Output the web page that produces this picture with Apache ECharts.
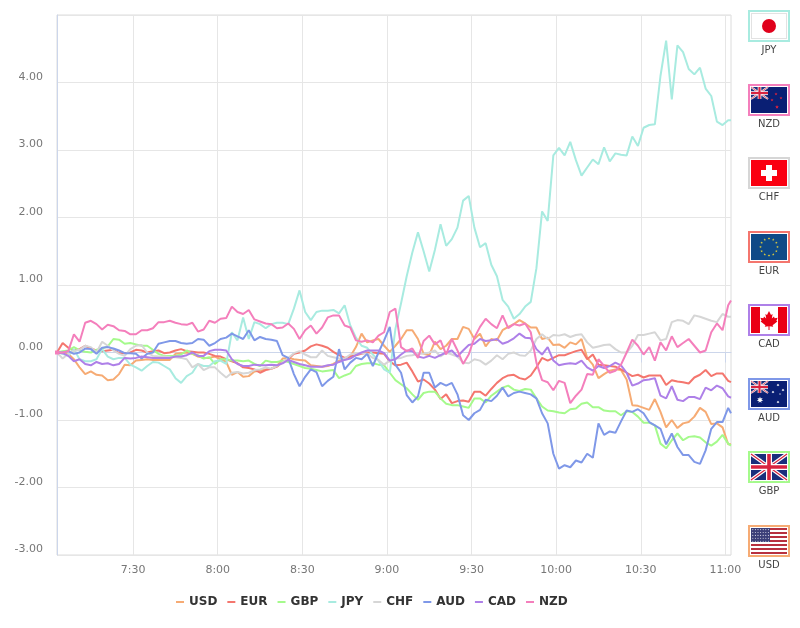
<!DOCTYPE html>
<html>
<head>
<meta charset="utf-8">
<title>Currency strength, intraday</title>
<script src="https://cdn.jsdelivr.net/npm/echarts@6/dist/echarts.min.js"></script>
<style>html,body{margin:0;padding:0;background:#fff}#chart{width:800px;height:628px}</style>
</head>
<body>
<div id="chart"></div>
<script>
// Percent change since the session start, sampled every two minutes from 7:03, with a closing value at 11:02.
const USD = [0,-.01,-.02,-.1,-.22,-.32,-.28,-.33,-.34,-.41,-.4,-.32,-.18,-.19,-.12,-.11,-.1,-.11,-.11,-.11,-.11,-.02,-.01,0,-.02,-.06,-.08,-.08,-.06,-.1,-.14,-.33,-.29,-.36,-.35,-.28,-.27,-.25,
  -.24,-.2,-.09,-.08,-.1,-.11,-.12,-.19,-.2,-.21,-.2,-.17,-.12,-.09,-.06,.08,.28,.15,.18,.2,.1,.01,.1,.2,.33,.33,.2,-.02,-.04,.16,.05,.1,.2,.2,.38,.35,.2,.28,.09,.2,.18,.33,.38,.42,.48,
  .43,.37,.37,.2,.22,.11,.12,.07,.15,.12,.2,-.08,-.18,-.38,-.32,-.27,-.25,-.26,-.4,-.78,-.79,-.82,-.85,-.69,-.88,-1.11,-1.0,-1.12,-1.05,-1.03,-.95,-.82,-.88,-1.06,-1.05,-1.11,-1.36,-1.36];
const EUR = [0,.14,.07,.03,.05,.1,.06,.03,.02,.03,.04,-.01,-.01,0,.04,.03,0,.02,.03,-.01,0,.03,.05,.02,.01,0,0,-.02,-.05,-.06,-.1,-.13,-.16,-.22,-.23,-.25,-.3,-.26,
  -.24,-.21,-.14,-.1,-.02,0,.03,.09,.12,.1,.07,.01,-.04,-.08,-.06,-.04,-.02,0,0,-.01,-.02,-.13,-.19,-.18,-.15,-.28,-.43,-.4,-.46,-.55,-.69,-.62,-.75,-.72,-.71,-.73,-.58,-.58,-.64,-.54,-.45,-.38,-.34,-.33,-.38,
  -.4,-.34,-.22,-.08,-.12,-.08,-.04,-.04,-.01,.02,.04,-.1,-.03,-.18,-.19,-.2,-.21,-.25,-.3,-.35,-.33,-.37,-.34,-.34,-.34,-.48,-.41,-.43,-.44,-.46,-.37,-.33,-.26,-.35,-.31,-.31,-.42,-.44];
const GBP = [0,.02,.03,.08,.03,.01,0,.04,.06,.09,.2,.19,.13,.14,.12,.1,.1,.04,-.02,-.05,-.05,-.05,-.03,.03,-.02,-.04,-.09,-.07,-.17,-.1,-.1,-.12,-.12,-.13,-.12,-.17,-.2,-.12,
  -.14,-.14,-.12,-.14,-.17,-.2,-.23,-.24,-.26,-.28,-.27,-.26,-.38,-.34,-.31,-.2,-.17,-.16,-.16,-.18,-.19,-.3,-.41,-.47,-.53,-.62,-.7,-.6,-.58,-.58,-.68,-.76,-.78,-.78,-.8,-.82,-.68,-.68,-.74,-.64,-.58,-.52,-.49,-.55,-.57,
  -.54,-.55,-.68,-.8,-.86,-.87,-.89,-.9,-.84,-.83,-.76,-.74,-.81,-.81,-.86,-.87,-.87,-.93,-.87,-.88,-.95,-1.04,-1.04,-1.08,-1.35,-1.42,-1.3,-1.2,-1.3,-1.25,-1.24,-1.26,-1.33,-1.38,-1.32,-1.22,-1.35,-1.38];
const JPY = [0,-.02,-.05,.05,-.1,-.13,-.13,-.1,.05,-.06,-.1,-.08,-.08,-.18,-.22,-.27,-.2,-.14,-.15,-.2,-.25,-.38,-.45,-.35,-.3,-.17,-.2,-.2,-.13,-.12,-.17,.3,.18,.52,.2,.45,.42,.36,
  .42,.44,.44,.42,.65,.92,.6,.48,.6,.62,.62,.63,.58,.7,.4,.22,.1,.07,-.03,-.12,-.25,-.3,.35,.73,1.13,1.48,1.78,1.5,1.2,1.52,1.9,1.58,1.68,1.85,2.25,2.32,1.85,1.56,1.62,1.3,1.13,.78,.68,.5,.57,
  .68,.75,1.25,2.09,1.95,2.92,3.03,2.92,3.12,2.85,2.62,2.74,2.86,2.79,3.04,2.83,2.95,2.93,2.92,3.2,3.06,3.33,3.37,3.38,4.1,4.62,3.75,4.55,4.45,4.2,4.12,4.22,3.91,3.8,3.42,3.37,3.44,3.44];
const CHF = [0,-.09,-.02,.02,.04,.1,.08,0,.16,.1,.03,-.02,-.05,.05,.1,.11,0,-.05,-.06,-.06,-.07,-.07,-.08,-.1,-.22,-.17,-.26,-.22,-.22,-.3,-.37,-.3,-.29,-.31,-.3,-.26,-.25,-.22,
  -.24,-.2,-.15,-.08,-.01,.02,-.03,-.07,-.07,.03,-.05,-.07,-.09,-.09,-.03,-.01,-.01,-.02,-.08,-.11,-.18,-.12,-.09,-.08,-.05,-.04,-.02,-.02,0,.03,-.06,0,-.03,-.06,-.15,-.16,-.1,-.12,-.18,-.12,-.04,-.1,-.02,0,-.04,
  -.05,.03,.2,.27,.2,.26,.25,.27,.23,.26,.27,.15,.07,.09,.11,.12,.05,0,0,.1,.26,.26,.28,.3,.18,.2,.45,.48,.47,.42,.55,.53,.5,.47,.45,.57,.53,.53];
const AUD = [0,0,.02,-.02,0,.06,.05,-.02,.07,.08,.06,.03,-.01,-.01,-.02,-.09,-.02,0,.13,.15,.17,.17,.14,.13,.14,.2,.19,.1,.14,.2,.22,.28,.24,.2,.33,.18,.23,.2,
  .19,.17,-.04,-.08,-.32,-.5,-.36,-.25,-.29,-.5,-.42,-.36,.05,-.25,-.15,-.08,-.1,-.02,-.2,0,.18,.38,-.18,-.3,-.63,-.74,-.65,-.3,-.3,-.52,-.45,-.49,-.45,-.62,-.93,-1.0,-.9,-.85,-.7,-.72,-.64,-.52,-.65,-.6,-.58,
  -.6,-.62,-.68,-.9,-1.05,-1.5,-1.72,-1.67,-1.7,-1.6,-1.63,-1.5,-1.56,-1.05,-1.22,-1.17,-1.19,-1.02,-.86,-.88,-.84,-.9,-1.03,-1.08,-1.13,-1.36,-1.2,-1.4,-1.52,-1.52,-1.62,-1.65,-1.45,-1.13,-1.03,-1.03,-.82,-.9];
const CAD = [0,-.01,-.05,-.13,-.1,-.17,-.19,-.14,-.17,-.16,-.19,-.17,-.08,-.09,-.08,-.06,-.07,-.08,-.08,-.08,-.08,-.06,-.06,-.04,0,-.05,-.05,.02,.04,.04,.03,-.1,-.17,-.2,-.2,-.18,-.19,-.19,
  -.18,-.19,-.16,-.11,-.14,-.17,-.19,-.21,-.21,-.21,-.19,-.18,-.14,-.11,-.09,-.04,0,.03,.03,.03,-.01,-.12,-.1,-.03,.03,.02,-.06,-.08,-.05,-.08,-.04,0,.03,-.06,.03,.11,.13,.2,.17,.18,.2,.13,.16,.21,.28,
  .22,.21,.05,-.03,.08,-.12,-.19,-.17,-.16,-.17,-.12,-.22,-.27,-.2,-.23,-.2,-.15,-.19,-.3,-.49,-.46,-.41,-.4,-.38,-.64,-.68,-.5,-.7,-.72,-.66,-.66,-.69,-.52,-.56,-.49,-.53,-.65,-.67];
const NZD = [0,0,.02,.27,.16,.44,.47,.42,.34,.41,.39,.33,.32,.27,.27,.33,.33,.36,.45,.45,.47,.44,.42,.41,.44,.31,.34,.47,.44,.5,.51,.68,.6,.57,.63,.49,.46,.43,
  .42,.36,.37,.43,.35,.2,.33,.4,.28,.37,.52,.55,.55,.4,.37,.18,.16,.18,.15,.25,.3,.6,.65,.08,.02,.06,-.08,.17,.25,.12,.18,-.03,.2,.03,-.17,-.03,.22,.38,.5,.42,.36,.55,.36,.42,.4,
  .43,.3,-.15,-.41,-.44,-.56,-.42,-.45,-.75,-.64,-.55,-.32,-.33,-.1,-.2,-.3,-.27,-.18,0,.19,.1,-.03,.08,-.12,.15,.03,.24,.08,.14,.2,.1,0,.03,.3,.43,.33,.7,.77];

const currencies = ['USD', 'EUR', 'GBP', 'JPY', 'CHF', 'AUD', 'CAD', 'NZD'];
const values = { USD, EUR, GBP, JPY, CHF, AUD, CAD, NZD };
const colors = { USD: '#F6AB74', EUR: '#F4766E', GBP: '#A5FA8C', JPY: '#A8EBE0', CHF: '#D6D6D6', AUD: '#7F98E8', CAD: '#AE80E8', NZD: '#F47FBC' };
const yTicks = { min: -3, max: 5, step: 1 };

// One category per minute; samples land on every second minute, the last one on the final minute.
const firstMinute = 7 * 60 + 3;
const lastMinute = 11 * 60 + 2;
const minutes = [];
for (let m = firstMinute; m <= lastMinute; m++) minutes.push(m);
const clock = m => Math.floor(m / 60) + ':' + String(m % 60).padStart(2, '0');
const isHalfHour = i => minutes[i] % 30 === 0;
const sampleIndex = (i, n) => (i === n - 1 ? minutes.length - 1 : i * 2);

const FONT = '"DejaVu Sans", sans-serif';

const series = currencies.map(name => ({
  name,
  type: 'line',
  showSymbol: false,
  symbol: 'none',
  lineStyle: { width: 2, color: colors[name] },
  itemStyle: { color: colors[name] },
  emphasis: { disabled: true },
  data: values[name].map((v, i, all) => [sampleIndex(i, all.length), v]),
  markPoint: name === 'NZD' ? {
    silent: true, animation: false, label: { show: false },
    symbol: 'rect', symbolSize: 4, itemStyle: { color: colors.NZD },
    data: [{ coord: [0, 0] }]
  } : undefined
}));

/* ---------- flag tiles for the right-hand column ---------- */
const W = 36, H = 26;
const rect = (x, y, w, h, fill) => ({ type: 'rect', silent: true, shape: { x, y, width: w, height: h }, style: { fill } });
const seg = (x1, y1, x2, y2, stroke, lineWidth) => ({ type: 'line', silent: true, shape: { x1, y1, x2, y2 }, style: { stroke, lineWidth } });
const dot = (cx, cy, r, fill) => ({ type: 'circle', silent: true, shape: { cx, cy, r }, style: { fill } });
const star = (cx, cy, r, fill, n = 5) => {
  const points = [];
  for (let k = 0; k < n * 2; k++) {
    const a = -Math.PI / 2 + k * Math.PI / n, q = k % 2 ? r * 0.45 : r;
    points.push([cx + q * Math.cos(a), cy + q * Math.sin(a)]);
  }
  return { type: 'polygon', silent: true, shape: { points }, style: { fill } };
};
function unionJack(w, h, scale) {
  const blue = '#1A2F7C', red = '#D8233F';
  return [
    rect(0, 0, w, h, blue),
    seg(0, 0, w, h, '#fff', 3.4 * scale), seg(w, 0, 0, h, '#fff', 3.4 * scale),
    seg(0, 0, w, h, red, 1.2 * scale), seg(w, 0, 0, h, red, 1.2 * scale),
    rect(w / 2 - 3 * scale, 0, 6 * scale, h, '#fff'), rect(0, h / 2 - 3 * scale, w, 6 * scale, '#fff'),
    rect(w / 2 - 1.8 * scale, 0, 3.6 * scale, h, red), rect(0, h / 2 - 1.8 * scale, w, 3.6 * scale, red)
  ];
}
const flagArt = {
  JPY: () => [rect(0, 0, W, H, '#e2e2e2'), rect(1, 1, W - 2, H - 2, '#fff'), dot(W / 2, H / 2, 7, '#E0001B')],
  NZD: () => [rect(0, 0, W, H, '#0A1F74'), ...unionJack(17, 12, .6),
    star(25, 7, 1.6, '#D8233F'), star(21, 13, 1.6, '#D8233F'), star(30, 11, 1.6, '#D8233F'), star(26, 20, 2, '#D8233F')],
  CHF: () => [rect(0, 0, W, H, '#FA0010'), rect(W / 2 - 3, 5, 6, 16, '#fff'), rect(W / 2 - 8, H / 2 - 3, 16, 6, '#fff')],
  EUR: () => {
    const parts = [rect(0, 0, W, H, '#0F4A87')];
    for (let k = 0; k < 12; k++) {
      const a = k * Math.PI / 6;
      parts.push(star(W / 2 + 8.5 * Math.sin(a), H / 2 - 8.5 * Math.cos(a), 1.3, '#E3CF3C'));
    }
    return parts;
  },
  CAD: () => {
    const cx = W / 2, cy = H / 2;
    const leaf = [[0,-9],[2,-5],[3.6,-6],[2.8,-1.5],[5,-3.5],[5.6,-1.8],[8.6,-2.2],[7.4,.8],[8.4,1.6],[3.6,5.2],[4.2,6.8],[.5,6.2],[.5,10],[-.5,10],[-.5,6.2],[-4.2,6.8],[-3.6,5.2],[-8.4,1.6],[-7.4,.8],[-8.6,-2.2],[-5.6,-1.8],[-5,-3.5],[-2.8,-1.5],[-3.6,-6],[-2,-5]];
    return [rect(0, 0, W, H, '#fff'), rect(0, 0, 9, H, '#EA0014'), rect(W - 9, 0, 9, H, '#EA0014'),
      { type: 'polygon', silent: true, shape: { points: leaf.map(p => [cx + p[0], cy + p[1]]) }, style: { fill: '#EA0014' } }];
  },
  AUD: () => [rect(0, 0, W, H, '#0A1F74'), ...unionJack(17, 12, .6),
    star(9, 19, 3.4, '#fff', 7), star(27, 4, 1.5, '#fff', 7), star(27, 21, 1.5, '#fff', 7), star(22, 11, 1.5, '#fff', 7), star(32, 9, 1.5, '#fff', 7), star(29, 13, 1, '#fff')],
  GBP: () => unionJack(W, H, 1),
  USD: () => {
    const parts = [rect(0, 0, W, H, '#fff')];
    const band = H / 13;
    for (let k = 0; k < 13; k += 2) parts.push(rect(0, k * band, W, band, '#B8303F'));
    parts.push(rect(0, 0, 19, band * 7, '#3C3F78'));
    for (let r = 0; r < 5; r++) for (let c = 0; c < 7; c++) parts.push(dot(1.8 + c * 2.6, 1.6 + r * 2.9, .55, '#d9d9e6'));
    return parts;
  }
};

// Column order follows the closing values, strongest on top.
const flagOrder = ['JPY', 'NZD', 'CHF', 'EUR', 'CAD', 'AUD', 'GBP', 'USD'];
const flagTop = [10, 84, 157, 231, 304, 378, 451, 525];
const graphic = flagOrder.map((name, k) => ({
  type: 'group', x: 748, y: flagTop[k], silent: true,
  children: [
    { type: 'rect', silent: true, shape: { x: 1, y: 1, width: 40, height: 30 }, style: { fill: '#fff', stroke: colors[name], lineWidth: 2 } },
    { type: 'group', x: 3, y: 3, children: flagArt[name]() },
    { type: 'text', silent: true, x: 21, y: 35, style: { text: name, fill: '#444', font: '10px ' + FONT, textAlign: 'center', textVerticalAlign: 'top' } }
  ]
}));

const chart = echarts.init(document.getElementById('chart'), null, { renderer: 'canvas' });
chart.setOption({
  animation: false,
  backgroundColor: '#fff',
  color: currencies.map(c => colors[c]),
  textStyle: { fontFamily: FONT },
  grid: { left: 57, right: 69, top: 15, bottom: 73, show: true, borderColor: '#dcdcdc', borderWidth: 1, backgroundColor: 'transparent' },
  legend: {
    left: 171, top: 591, icon: 'rect', itemWidth: 8, itemHeight: 2, itemGap: 10, selectedMode: false,
    data: currencies,
    textStyle: { fontFamily: FONT, fontSize: 12, fontWeight: 'bold', color: '#333' }
  },
  xAxis: {
    type: 'category',
    data: minutes.map(clock),
    boundaryGap: false,
    axisLine: { lineStyle: { color: '#CCD6EB', width: 1 } },
    axisTick: { show: true, length: 10, interval: isHalfHour, alignWithLabel: true, lineStyle: { color: '#CCD6EB' } },
    axisLabel: { interval: isHalfHour, margin: 10, fontSize: 11, color: '#777', fontFamily: FONT, hideOverlap: false },
    splitLine: { show: true, interval: isHalfHour, lineStyle: { color: '#E6E6E6', width: 1 } }
  },
  yAxis: {
    type: 'value',
    min: yTicks.min, max: yTicks.max, interval: yTicks.step,
    axisLine: { show: true, lineStyle: { color: '#CCD6EB', width: 1 } },
    axisTick: { show: false },
    axisLabel: {
      margin: 14, fontSize: 11, color: '#777', fontFamily: FONT, verticalAlign: 'bottom',
      formatter: v => (v === yTicks.max ? '' : v.toFixed(2))
    },
    splitLine: { show: true, lineStyle: { color: '#E6E6E6', width: 1 } }
  },
  series,
  graphic
});
</script>
</body>
</html>
